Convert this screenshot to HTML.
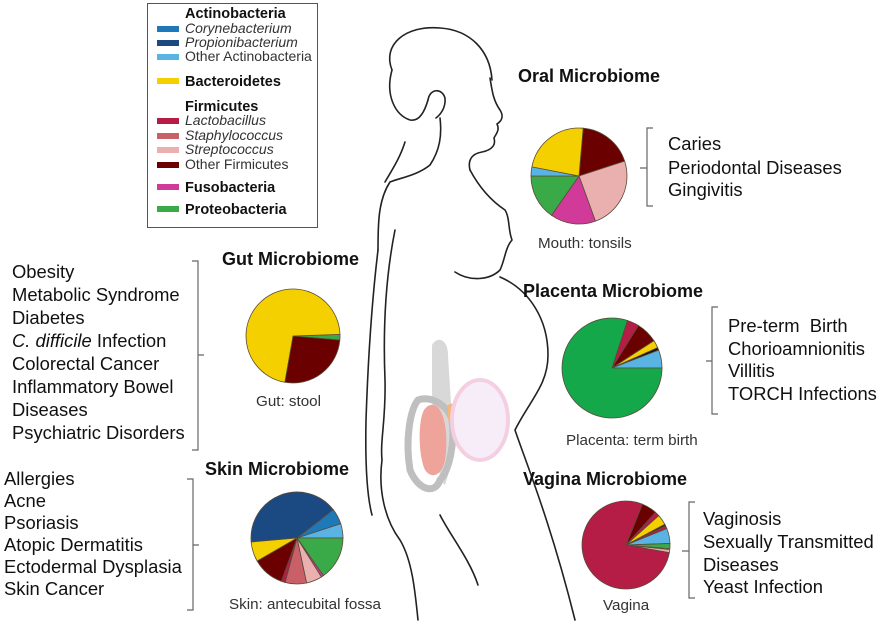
<!DOCTYPE html>
<html><head><meta charset="utf-8"><style>
html,body{margin:0;padding:0;background:#fff;}
svg{display:block;}
text{font-family:"Liberation Sans",sans-serif;}
.l{font-size:18.4px;fill:#111;}
.t{font-size:18px;font-weight:bold;fill:#111;}
.c{font-size:15.2px;fill:#333;}
.g{font-size:14px;fill:#333;}
.gb{font-size:14.5px;font-weight:bold;fill:#111;}
.br{fill:none;stroke:#666;stroke-width:1.2;}
.body{fill:none;stroke:#222;stroke-width:1.6;stroke-linecap:round;}
</style></head><body>
<svg id="s" width="892" height="623" viewBox="0 0 892 623" xmlns="http://www.w3.org/2000/svg">
<rect x="147.5" y="3.5" width="170" height="224" fill="#fff" stroke="#555" stroke-width="1"/>
<text class="gb" x="185" y="18">Actinobacteria</text>
<rect x="157" y="26" width="22" height="6" fill="#1f78b8"/><text class="g" x="185" y="33" font-style="italic">Corynebacterium</text>
<rect x="157" y="40" width="22" height="6" fill="#1b4a82"/><text class="g" x="185" y="47" font-style="italic">Propionibacterium</text>
<rect x="157" y="54" width="22" height="6" fill="#5ab4e3"/><text class="g" x="185" y="61">Other Actinobacteria</text>
<rect x="157" y="78" width="22" height="6" fill="#f5d000"/><text class="gb" x="185" y="86">Bacteroidetes</text>
<text class="gb" x="185" y="111">Firmicutes</text>
<rect x="157" y="118" width="22" height="6" fill="#b51d47"/><text class="g" x="185" y="125" font-style="italic">Lactobacillus</text>
<rect x="157" y="133" width="22" height="6" fill="#c96067"/><text class="g" x="185" y="140" font-style="italic">Staphylococcus</text>
<rect x="157" y="147" width="22" height="6" fill="#eab0b0"/><text class="g" x="185" y="154" font-style="italic">Streptococcus</text>
<rect x="157" y="162" width="22" height="6" fill="#6a0000"/><text class="g" x="185" y="169">Other Firmicutes</text>
<rect x="157" y="184" width="22" height="6" fill="#d23a9a"/><text class="gb" x="185" y="192">Fusobacteria</text>
<rect x="157" y="206" width="22" height="6" fill="#3aaa48"/><text class="gb" x="185" y="214">Proteobacteria</text>

<g class="body">
<path d="M392,70 C382,45 405,25 440,28 C470,30 490,50 492,80"/>
<path d="M392,70 C385,95 395,115 410,120 C420,122 425,110 428,100"/>
<path d="M428,100 C430,88 442,88 445,98 C446,108 440,115 436,118"/>
<path d="M490,78 C492,90 493,100 500,110 C505,118 500,122 497,124 C500,130 496,134 494,138 C496,145 492,150 482,152 C470,154 468,162 470,170"/>
<path d="M440,118 C442,135 440,150 430,165 C418,175 400,178 390,182 C378,200 378,225 378,250"/>
<path d="M405,142 C400,158 392,170 385,182"/>
<path d="M470,170 C478,185 490,200 505,210 C510,218 508,230 512,240 C505,248 505,260 500,270 C490,280 470,282 455,272"/>
<path d="M378,250 C372,300 368,360 366,420 C365,470 368,500 372,515"/>
<path d="M395,230 C385,280 383,330 385,380 C386,420 380,440 382,460 C378,490 385,520 400,540 C412,560 415,590 418,620"/>
<path d="M500,277 C530,290 548,320 548,355 C548,385 530,400 515,430 C525,460 550,520 575,620"/>
<path d="M440,515 C450,535 470,560 478,585"/>
</g>
<g opacity="0.75">
<path d="M432,345 C438,335 448,340 448,355 L452,420 C455,450 450,470 445,485 L440,480 C438,450 432,420 432,390 Z" fill="#ccc"/>
<path d="M418,400 C410,410 405,440 410,470 C418,490 435,495 440,480 C450,470 455,440 452,420 C448,405 430,395 418,400 Z" fill="none" stroke="#aaa" stroke-width="7"/>
<path d="M424,410 C418,420 418,455 425,470 C432,480 442,475 445,460 C448,440 446,420 440,410 C435,402 428,404 424,410 Z" fill="#e9857a"/>
<path d="M448,405 C455,400 460,410 455,425 L448,420 Z" fill="#f0a050"/>
<ellipse cx="480" cy="420" rx="28" ry="40" fill="#f4e8f8" stroke="#f1c0d8" stroke-width="4"/>
</g>

<text class="t" x="518" y="82">Oral Microbiome</text>
<text class="t" x="222" y="265">Gut Microbiome</text>
<text class="t" x="523" y="297">Placenta Microbiome</text>
<text class="t" x="205" y="475">Skin Microbiome</text>
<text class="t" x="523" y="485">Vagina Microbiome</text>

<text class="c" x="538" y="248">Mouth: tonsils</text>
<text class="c" x="256" y="406">Gut: stool</text>
<text class="c" x="566" y="445">Placenta: term birth</text>
<text class="c" x="229" y="609">Skin: antecubital fossa</text>
<text class="c" x="603" y="610">Vagina</text>

<g class="l">
<text x="12" y="278">Obesity</text>
<text x="12" y="301">Metabolic Syndrome</text>
<text x="12" y="324">Diabetes</text>
<text x="12" y="347"><tspan font-style="italic">C. difficile</tspan> Infection</text>
<text x="12" y="370">Colorectal Cancer</text>
<text x="12" y="393">Inflammatory Bowel</text>
<text x="12" y="416">Diseases</text>
<text x="12" y="439">Psychiatric Disorders</text>
<text x="4" y="485">Allergies</text>
<text x="4" y="507">Acne</text>
<text x="4" y="529">Psoriasis</text>
<text x="4" y="551">Atopic Dermatitis</text>
<text x="4" y="573">Ectodermal Dysplasia</text>
<text x="4" y="595">Skin Cancer</text>
<text x="668" y="150">Caries</text>
<text x="668" y="174">Periodontal Diseases</text>
<text x="668" y="196">Gingivitis</text>
<text x="728" y="332">Pre-term&#160; Birth</text>
<text x="728" y="355">Chorioamnionitis</text>
<text x="728" y="377">Villitis</text>
<text x="728" y="400">TORCH Infections</text>
<text x="703" y="525">Vaginosis</text>
<text x="703" y="548">Sexually Transmitted</text>
<text x="703" y="571">Diseases</text>
<text x="703" y="593">Yeast Infection</text>
</g>
<path class="br" d="M192,261 H198 V450 H192 M198,355 H204"/>
<path class="br" d="M187,479 H193 V610 H187 M193,545 H199"/>
<path class="br" d="M653,128 H647 V206 H653 M647,168 H640"/>
<path class="br" d="M718,307 H712 V414 H718 M712,361 H706"/>
<path class="br" d="M695,502 H689 V598 H695 M689,551 H682"/>
<g id="pies"></g>
</svg>
<script>
var C={cor:"#1f78b8",pro:"#1b4a82",oa:"#5ab4e3",bac:"#f5d000",lac:"#b51d47",sta:"#c96067",str:"#eab0b0",of:"#6a0000",fus:"#d23a9a",prt:"#14a84a",prt2:"#3aaa48",blk:"#111"};
function pie(cx,cy,r,sl){var g=document.getElementById("pies"),ns="http://www.w3.org/2000/svg";
sl.forEach(function(s){var a0=(s[0]-90)*Math.PI/180,a1=(s[1]-90)*Math.PI/180;
var x0=cx+r*Math.cos(a0),y0=cy+r*Math.sin(a0),x1=cx+r*Math.cos(a1),y1=cy+r*Math.sin(a1);
var p=document.createElementNS(ns,"path");
p.setAttribute("d","M"+cx+","+cy+" L"+x0+","+y0+" A"+r+","+r+" 0 "+((s[1]-s[0])>180?1:0)+" 1 "+x1+","+y1+" Z");
p.setAttribute("fill",s[2]);p.setAttribute("stroke","#5a4a3a");p.setAttribute("stroke-width","0.8");g.appendChild(p);});}
pie(579,176,48,[[5,72,C.of],[72,160,C.str],[160,215,C.fus],[215,270,C.prt2],[270,281,C.oa],[281,365,C.bac]]);
pie(293,336,47,[[88,95,C.prt2],[95,190,C.of],[190,448,C.bac]]);
pie(612,368,50,[[18,32,C.lac],[32,57,C.of],[57,66,C.bac],[66,69,C.blk],[69,90,C.oa],[90,378,C.prt]]);
pie(297,538,46,[[-95,52,C.pro],[52,72,C.cor],[72,90,C.oa],[90,145,C.prt2],[145,148,C.fus],[148,168,C.str],[168,195,C.sta],[195,200,C.lac],[200,240,C.of],[240,265,C.bac]]);
pie(626,545,44,[[22,42,C.of],[48,62,C.bac],[62,64,C.blk],[68,88,C.oa],[88,95,C.prt2],[96,100,C.str],[100,382,C.lac],[42,48,C.lac],[64,68,C.lac]]);
</script>
</body></html>
